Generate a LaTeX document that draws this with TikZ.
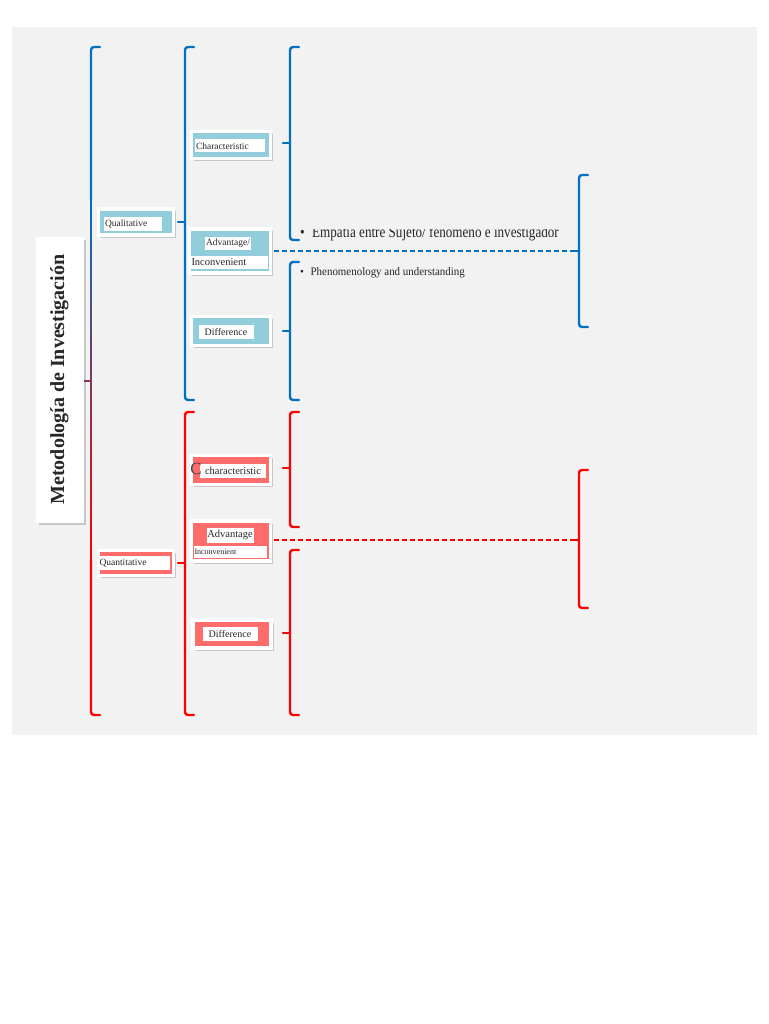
\documentclass[tikz,border=0pt]{standalone}
\usepackage{fontspec}
\usepackage{graphicx}
\setmainfont{Liberation Serif}
\usetikzlibrary{shadows}
\definecolor{bgc}{RGB}{242,242,242}
\definecolor{bblue}{RGB}{0,112,192}
\definecolor{rred}{RGB}{255,0,0}
\definecolor{lblue}{RGB}{146,205,220}
\definecolor{lred}{RGB}{255,108,108}
\tikzset{
  brk/.style={line width=2.4pt, rounded corners=3pt, line cap=round},
  card/.style={draw=white, line width=3.5pt, minimum width=78pt, minimum height=28pt, inner sep=0pt,
    drop shadow={shadow xshift=2.5pt, shadow yshift=-2.5pt, opacity=0.3, fill=black!60}},
  cardb/.style={card, fill=lblue},
  cardr/.style={card, fill=lred},
  lab/.style={fill=white, inner sep=0pt, font=\fontsize{9.5}{10}\selectfont, text=black!85},
  link/.style={line width=2pt, dash pattern=on 5pt off 3pt},
  bullet/.style={inner sep=0pt, text=black!85}
}
\newcommand\brkt[5]{%
  \draw[brk,#1] (#2+9,#3) -- (#2,#3) -- (#2,#4) -- (#2+9,#4);
  \draw[brk,#1,rounded corners=0pt] (#2,#5) -- (#2-7,#5);}
\begin{document}
\begin{tikzpicture}[x=1pt,y=-1pt]
\useasboundingbox (0,0) rectangle (768,1024);
\fill[white] (0,0) rectangle (768,1024);
\fill[bgc] (12,27) rectangle (757,735);

% title
\node[draw=white, fill=white, minimum width=47pt, minimum height=285pt, inner sep=0pt,
  drop shadow={shadow xshift=2.5pt, shadow yshift=-2.5pt, opacity=0.3, fill=black!60}] (title) at (59.5,379.5) {};
\node[rotate=90, font=\fontsize{20}{22}\selectfont\bfseries, text=black!85] (titletext) at (title.center) {Metodología de Investigación};

% left gradient bracket
\draw[brk,bblue] (100,47) -- (91,47) -- (91,200);
\foreach \i in {0,...,35}{
  \pgfmathsetmacro\ya{200+\i*10}
  \pgfmathsetmacro\yb{200+(\i+1)*10}
  \pgfmathsetmacro\p{100-\i*100/35}
  \draw[line width=2.4pt, color=bblue!\p!rred] (91,\ya) -- (91,\yb);
}
\draw[brk,rred] (91,560) -- (91,715) -- (100,715);
\draw[line width=2.4pt, color=bblue!45!rred] (91,381) -- (84,381);

% second column brackets
\brkt{bblue}{185}{47}{400}{222}
\brkt{rred}{185}{412}{715}{563}
% third column brackets
\brkt{bblue}{290}{47}{240}{143}
\brkt{bblue}{290}{262}{400}{331}
\brkt{rred}{290}{412}{527}{468}
\brkt{rred}{290}{550}{715}{633}
% right brackets
\brkt{bblue}{579}{175}{327}{251}
\brkt{rred}{579}{470}{608}{540}

% qualitative boxes
\node[cardb, minimum width=75pt, minimum height=26pt] (qual) at (136,222) {};
\node[lab, minimum width=58pt, minimum height=14pt, text width=56pt] (quallab) at (133,224) {Qualitative};
\node[cardb, minimum width=79pt, minimum height=27pt] (char1) at (231,145) {};
\node[lab, minimum width=70pt, minimum height=13pt, text width=68pt] (char1lab) at (230,146) {Characteristic};
\node[cardb, minimum width=81pt, minimum height=44pt] (adv1) at (230,251) {};
\node[lab, minimum width=46pt, minimum height=13pt] (adv1lab) at (228,243) {Advantage/};
\node[lab, minimum width=77pt, minimum height=13pt, text width=75pt, font=\fontsize{10.5}{11}\selectfont] (inc1lab) at (229,262) {Inconvenient};
\node[cardb, minimum width=79pt, minimum height=29pt] (diff1) at (231,331) {};
\node[lab, minimum width=55pt, minimum height=14pt, font=\fontsize{10}{11}\selectfont] (diff1lab) at (226,332) {Difference};

% quantitative boxes
\node[cardr, minimum width=75pt, minimum height=25pt] (quant) at (136,563) {};
\node[lab, minimum width=71pt, minimum height=14pt, text width=69pt] (quantlab) at (134,563) {Quantitative};
\node[cardr, minimum width=79pt, minimum height=29pt] (char2) at (231,470) {};
\node[lab, minimum width=66pt, minimum height=14pt, font=\fontsize{10.5}{11}\selectfont] (char2lab) at (233,471) {characteristic};
\node[font=\fontsize{17}{17}\selectfont, text=black!75, inner sep=0pt, anchor=base] (bigc) at (196,474) {C};
\node[cardr, minimum width=79pt, minimum height=40pt] (adv2) at (231,541) {};
\node[lab, minimum width=47pt, minimum height=15pt, font=\fontsize{10.5}{11}\selectfont] (adv2lab) at (230,535) {Advantage};
\node[lab, minimum width=73pt, minimum height=12pt, text width=71pt, font=\fontsize{8}{9}\selectfont] (inc2lab) at (230,552) {Inconvenient};
\node[cardr, minimum width=78pt, minimum height=28pt] (diff2) at (232,634) {};
\node[lab, minimum width=55pt, minimum height=14pt, font=\fontsize{10}{11}\selectfont] (diff2lab) at (230,634) {Difference};

% dashed links
\coordinate (e1) at (577,251);
\coordinate (e2) at (577,540);
\draw[link,bblue] (adv1.east |- e1) ++(2,0) -- (e1);
\draw[link,rred] (adv2.east |- e2) ++(2,0) -- (e2);

% bullets
\begin{scope}
\clip (295,229.5) rectangle (575,245);
\node[bullet, anchor=base west, font=\fontsize{16}{17}\selectfont] (b1) at (300,237) {\scalebox{0.82}[1]{•\hspace{9pt}Empatía entre Sujeto/ fenómeno e investigador}};
\end{scope}
\node[bullet, anchor=base west, font=\fontsize{11.5}{12}\selectfont] (b2) at (300,275) {\scalebox{0.95}[1]{•\hspace{7pt}Phenomenology and understanding}};
\end{tikzpicture}
\end{document}
